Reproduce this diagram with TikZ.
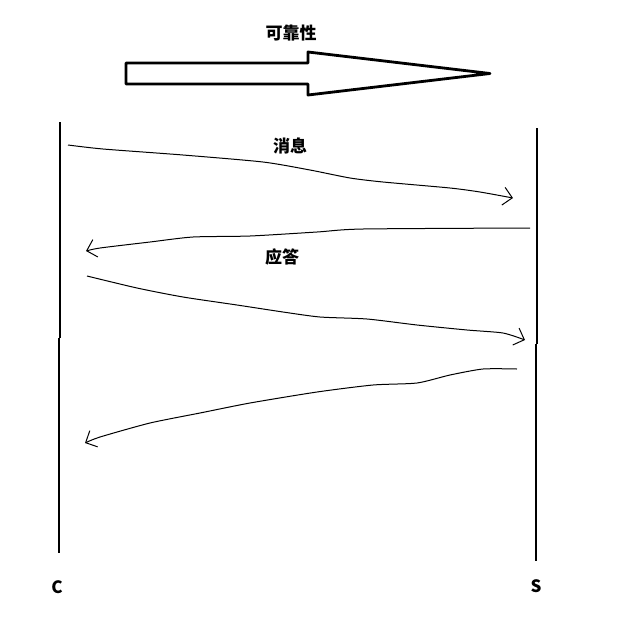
\documentclass[tikz,border=0pt]{standalone}
\usepackage{fontspec}
\newfontfamily\cjk{Noto Sans CJK SC}
\usetikzlibrary{arrows.meta}
\tikzset{
	lifeline/.style={
		line width=2.8pt, color=black
	},
	sketcharrow/.style={
		-{Straight Barb[length=9pt, width=18pt, line width=1pt]},
		line width=1pt, color=black
	},
	bigarrow/.style={
		draw=black, line width=2.8pt, fill=white, line join=round
	},
	labeltext/.style={
		font=\cjk\bfseries\fontsize{17}{20}\selectfont, inner sep=0pt
	}
}
\begin{document}
\begin{tikzpicture}[x=1pt, y=-1pt]
		\useasboundingbox[fill=white] (0,0) rectangle (630,622);
		%% ═══════════════════════════════
		%%  TITLE + BIG ARROW
		%% ═══════════════════════════════
		\node[labeltext] (reliab) at (291,33) {可靠性};
		\draw[bigarrow] (126,63) -- (308,63) -- (308,52) -- (490,73.5)
		-- (308,95) -- (308,84) -- (126,84) -- cycle;
		
		%% ═══════════════════════════════
		%%  LIFELINES  C / S
		%% ═══════════════════════════════
		\node[labeltext] (client) at (57,587) {C};
		\node[labeltext] (server) at (536,586) {S};
		
		\coordinate (ctop) at (60,122);
		\coordinate (cmid) at (60,338);
		\coordinate (cbot) at (59,553);
		\coordinate (stop) at (537,128);
		\coordinate (smid) at (537,344);
		\coordinate (sbot) at (536,561);
		
		\draw[lifeline] (ctop) -- (cmid);
		\draw[lifeline] (cmid -| cbot) -- (cbot);
		\draw[lifeline] (stop) -- (smid);
		\draw[lifeline] (smid -| sbot) -- (sbot);
		
		%% ═══════════════════════════════
		%%  MESSAGES
		%% ═══════════════════════════════
		\node[labeltext] (msg) at (290,146) {消息};
		\node[labeltext] (ack) at (282,257) {应答};
		
		\coordinate (m1s) at (68,145);
		\coordinate (m1e) at (513,198);
		\coordinate (m2s) at (530,228);
		\coordinate (m2e) at (86,251);
		\coordinate (m3s) at (87,276);
		\coordinate (m3e) at (525,340);
		\coordinate (m4s) at (517,369);
		\coordinate (m4e) at (85,443);
		
		% C -> S  (message)
		\draw[sketcharrow] plot[smooth, tension=0.4] coordinates {(m1s) (103,149)
			(183,155) (263,162) (310,170) (350,178) (383,182) (450,188) (480,192) (m1e)};
		
		% S -> C  (ack)
		\draw[sketcharrow] plot[smooth, tension=0.4] coordinates {(m2s) (363,229)
			(317,232) (250,236) (193,237) (150,242) (100,248) (m2e)};
		
		% C -> S  (retry)
		\draw[sketcharrow] plot[smooth, tension=0.4] coordinates {(m3s) (137,288)
			(183,297) (237,305) (283,312) (320,317) (367,319) (417,325) (467,330) (503,333) (m3e)};
		
		% S -> C  (ack)
		\draw[sketcharrow] plot[smooth, tension=0.4] coordinates {(m4s) (483,369)
			(450,375) (417,383) (373,385) (317,392) (250,403) (200,413) (150,423) (100,437) (m4e)};
		
	\end{tikzpicture}
\end{document}
